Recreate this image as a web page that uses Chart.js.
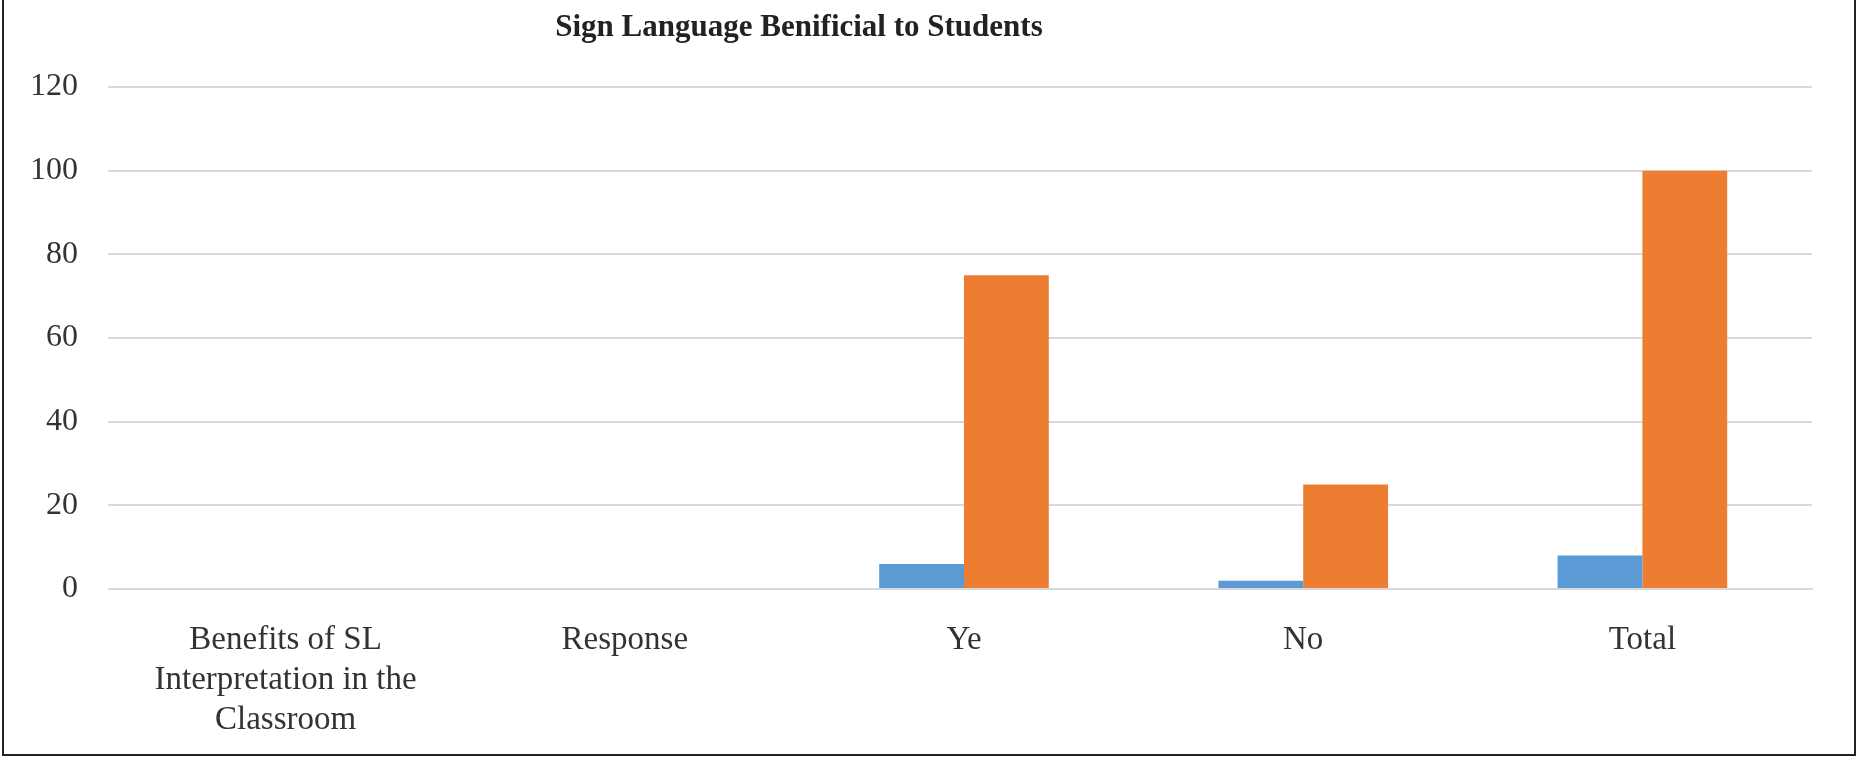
<!DOCTYPE html>
<html><head><meta charset="utf-8">
<script src="https://cdn.jsdelivr.net/npm/chart.js@4"></script>
<style>
html,body{margin:0;padding:0;background:#fff;}
#wrap{position:absolute;left:2px;top:0;width:1854px;height:756px;border:2px solid #222;border-top:none;box-sizing:border-box;}
canvas{display:block;}
</style></head><body>
<div id="wrap"><canvas id="c" width="1850" height="754"></canvas></div>
<script>
const categories = [["Benefits of SL","Interpretation in the","Classroom"],"Response","Ye","No","Total"];
const seriesA = [null, null, 6, 2, 8];
const seriesB = [null, null, 75, 25, 100];
const yTicks = [0,20,40,60,80,100,120];
const titleText = 'Sign Language Benificial to Students';
const font = "'Liberation Serif', 'Times New Roman', serif";
const titlePlugin = {
  id: 'tt',
  afterDraw(chart) {
    const ctx = chart.ctx;
    ctx.save();
    ctx.font = 'bold 31px ' + font;
    ctx.fillStyle = '#222';
    ctx.textAlign = 'center';
    ctx.textBaseline = 'middle';
    ctx.fillText(titleText, 795, 28);
    ctx.restore();
  }
};
new Chart(document.getElementById('c'), {
  type: 'bar',
  data: { labels: categories, datasets: [
    { label: 'A', data: seriesA, backgroundColor: '#5b9bd5', categoryPercentage: 0.5, barPercentage: 1 },
    { label: 'B', data: seriesB, backgroundColor: '#ed7d31', categoryPercentage: 0.5, barPercentage: 1 }
  ]},
  plugins: [titlePlugin],
  options: {
    responsive: false, animation: false,
    layout: { padding: { left: 0, right: 42, top: 87, bottom: 0 } },
    plugins: { legend: { display: false }, title: { display: false }, tooltip: { enabled: false } },
    scales: {
      x: { grid: { display: false }, border: { color: '#d9d9d9', width: 2 },
        afterFit: s => { s.height = 165; },
        ticks: { color: '#333', font: { family: font, size: 33 }, maxRotation: 0, autoSkip: false, padding: 24 } },
      y: { min: 0, max: 120, afterBuildTicks: s => { s.ticks = yTicks.map(v => ({ value: v })); },
        afterFit: s => { s.width = 112; },
        grid: { color: '#d9d9d9', lineWidth: 2 }, border: { display: false },
        ticks: { color: '#333', font: { family: font, size: 32 }, padding: 30 } }
    }
  }
});
</script></body></html>
